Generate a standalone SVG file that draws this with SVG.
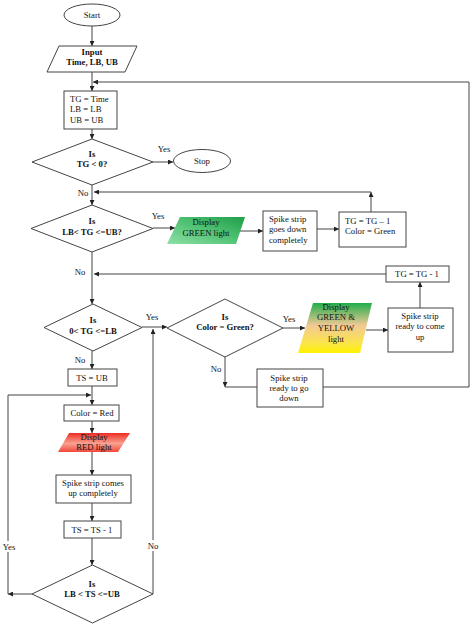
<svg xmlns="http://www.w3.org/2000/svg" width="474" height="629" viewBox="0 0 474 629">
<defs>
<marker id="ah" viewBox="0 0 10 10" refX="10" refY="5" markerWidth="5" markerHeight="5" orient="auto" markerUnits="userSpaceOnUse">
<path d="M0,0 L10,5 L0,10 z" fill="#222"/>
</marker>
<linearGradient id="gGreen" x1="0" y1="1" x2="1" y2="0">
<stop offset="0" stop-color="#8fe0a5"/>
<stop offset="0.5" stop-color="#52c375"/>
<stop offset="1" stop-color="#1f9e48"/>
</linearGradient>
<linearGradient id="gYellow" x1="0" y1="0" x2="0" y2="1">
<stop offset="0" stop-color="#22ad4c"/>
<stop offset="0.45" stop-color="#f2c995"/>
<stop offset="0.8" stop-color="#fbe44a"/>
<stop offset="1" stop-color="#fff200"/>
</linearGradient>
<linearGradient id="gRed" x1="0" y1="0" x2="0" y2="1">
<stop offset="0" stop-color="#ee2c24"/>
<stop offset="0.55" stop-color="#f9a291"/>
<stop offset="1" stop-color="#f0483a"/>
</linearGradient>
</defs>
<style>
.s{fill:#fff;stroke:#444;stroke-width:1}
.c{fill:none;stroke:#444;stroke-width:1}
.t{font-family:"Liberation Serif","Times New Roman",serif;font-size:8.7px;fill:#111}
.b{font-weight:bold}
.m{text-anchor:middle}
.lb{fill:#fff;stroke:none}
</style>
<rect width="474" height="629" fill="#fff"/>

<g id="connectors">
<path class="c" d="M92,26 V46" marker-end="url(#ah)"/>
<path class="c" d="M92,72 V91" marker-end="url(#ah)"/>
<path class="c" d="M323,387 H469 V82 H93" marker-end="url(#ah)"/>
<path class="c" d="M92,129 V139" marker-end="url(#ah)"/>
<path class="c" d="M153,162 H173" marker-end="url(#ah)"/>
<path class="c" d="M92,185 V205" marker-end="url(#ah)"/>
<path class="c" d="M371,212 V192" marker-end="url(#ah)"/>
<path class="c" d="M371,192 H94" marker-end="url(#ah)"/>
<path class="c" d="M153,228 H175" marker-end="url(#ah)"/>
<path class="c" d="M240,231 H263" marker-end="url(#ah)"/>
<path class="c" d="M317,229 H339" marker-end="url(#ah)"/>
<path class="c" d="M92,252 V304" marker-end="url(#ah)"/>
<path class="c" d="M386,274 H94" marker-end="url(#ah)"/>
<path class="c" d="M420,308 V282" marker-end="url(#ah)"/>
<path class="c" d="M142,327 H167" marker-end="url(#ah)"/>
<path class="c" d="M153,594 V329" marker-end="url(#ah)"/>
<path class="c" d="M283,328 H305" marker-end="url(#ah)"/>
<path class="c" d="M366,330 H388" marker-end="url(#ah)"/>
<path class="c" d="M225,357 V387" marker-end="url(#ah)"/>
<path class="c" d="M225,387 H257"/>
<path class="c" d="M92,351 V369" marker-end="url(#ah)"/>
<path class="c" d="M92,386 V405" marker-end="url(#ah)"/>
<path class="c" d="M32,594 H8" marker-end="url(#ah)"/>
<path class="c" d="M8,594 V395 H91" marker-end="url(#ah)"/>
<path class="c" d="M92,421 V433" marker-end="url(#ah)"/>
<path class="c" d="M92,452 V475" marker-end="url(#ah)"/>
<path class="c" d="M92,503 V521" marker-end="url(#ah)"/>
<path class="c" d="M92,538 V565" marker-end="url(#ah)"/>
<rect class="lb" x="2" y="541" width="15" height="11"/>
<rect class="lb" x="146" y="540" width="15" height="11"/>
<text class="t m" x="164" y="152">Yes</text>
<text class="t m" x="83" y="196">No</text>
<text class="t m" x="158" y="219">Yes</text>
<text class="t m" x="80" y="275">No</text>
<text class="t m" x="152" y="320">Yes</text>
<text class="t m" x="80" y="363">No</text>
<text class="t m" x="289" y="322">Yes</text>
<text class="t m" x="216" y="372">No</text>
<text class="t m" x="9" y="550">Yes</text>
<text class="t m" x="153" y="549">No</text>
</g>

<g id="start">
<ellipse class="s" cx="92" cy="15" rx="28" ry="11"/>
<text class="t m" x="92" y="18">Start</text>
</g>
<g id="input">
<polygon class="s" points="59,46 137,46 125,72 47,72"/>
<text class="t b m" x="92" y="55">Input</text>
<text class="t b m" x="92" y="65">Time, LB, UB</text>
</g>
<g id="init">
<rect class="s" x="64" y="91" width="53" height="38"/>
<text class="t" x="70" y="102">TG = Time</text>
<text class="t" x="70" y="112">LB = LB</text>
<text class="t" x="70" y="123">UB = UB</text>
</g>
<g id="d1">
<polygon class="s" points="92,139 153,162 92,185 32,162"/>
<text class="t b m" x="92" y="157">Is</text>
<text class="t b m" x="92" y="167">TG &lt; 0?</text>
</g>
<g id="stop">
<ellipse class="s" cx="202" cy="161" rx="28.5" ry="11.5"/>
<text class="t m" x="202" y="164">Stop</text>
</g>
<g id="d2">
<polygon class="s" points="92,205 153,228.5 92,252 31,228.5"/>
<text class="t b m" x="92" y="224">Is</text>
<text class="t b m" x="92" y="235">LB&lt; TG &lt;=UB?</text>
</g>
<g id="green">
<polygon points="180,217 245,217 236,244 167,244" fill="url(#gGreen)"/>
<text class="t m" x="206" y="225">Display</text>
<text class="t m" x="206" y="236">GREEN light</text>
</g>
<g id="spikeDown">
<rect class="s" x="263" y="211" width="54" height="40"/>
<text class="t" x="269" y="222">Spike strip</text>
<text class="t" x="269" y="232">goes down</text>
<text class="t" x="269" y="243">completely</text>
</g>
<g id="tgGreen">
<rect class="s" x="339" y="212" width="67" height="35"/>
<text class="t" x="345" y="224">TG = TG – 1</text>
<text class="t" x="345" y="234">Color = Green</text>
</g>
<g id="tgMinus">
<rect class="s" x="386" y="266" width="63" height="16"/>
<text class="t m" x="417" y="277">TG = TG - 1</text>
</g>
<g id="d3">
<polygon class="s" points="93,304 142,327.5 93,351 44,327.5"/>
<text class="t b m" x="93" y="323">Is</text>
<text class="t b m" x="93" y="334">0&lt; TG &lt;=LB</text>
</g>
<g id="dColor">
<polygon class="s" points="225,299 283,328 225,357 167,328"/>
<text class="t b m" x="225" y="320">Is</text>
<text class="t b m" x="225" y="330">Color = Green?</text>
</g>
<g id="yellow">
<polygon points="313,303 372,303 360,353 298,353" fill="url(#gYellow)"/>
<text class="t m" x="336" y="310">Display</text>
<text class="t m" x="336" y="320">GREEN &amp;</text>
<text class="t m" x="336" y="331">YELLOW</text>
<text class="t m" x="336" y="342">light</text>
</g>
<g id="readyUp">
<rect class="s" x="388" y="308" width="65" height="44"/>
<text class="t m" x="420" y="319">Spike strip</text>
<text class="t m" x="420" y="329">ready to come</text>
<text class="t m" x="420" y="340">up</text>
</g>
<g id="readyDown">
<rect class="s" x="257" y="369" width="66" height="38"/>
<text class="t m" x="289" y="381">Spike strip</text>
<text class="t m" x="289" y="391">ready to go</text>
<text class="t m" x="289" y="401">down</text>
</g>
<g id="tsub">
<rect class="s" x="68" y="369" width="49" height="17"/>
<text class="t m" x="92" y="381">TS = UB</text>
</g>
<g id="colorRed">
<rect class="s" x="64" y="405" width="55" height="16"/>
<text class="t m" x="92" y="416">Color = Red</text>
</g>
<g id="red">
<polygon points="69,433 130,433 118,452 58,452" fill="url(#gRed)"/>
<text class="t m" x="94" y="440">Display</text>
<text class="t m" x="94" y="450">RED light</text>
</g>
<g id="spikeUp">
<rect class="s" x="56" y="475" width="75" height="28"/>
<text class="t m" x="93" y="486">Spike strip comes</text>
<text class="t m" x="93" y="496">up completely</text>
</g>
<g id="tsMinus">
<rect class="s" x="64" y="521" width="57" height="17"/>
<text class="t m" x="92" y="533">TS = TS - 1</text>
</g>
<g id="d4">
<polygon class="s" points="92.5,565 153,594 92.5,623 32,594"/>
<text class="t b m" x="92" y="587">Is</text>
<text class="t b m" x="92" y="597">LB &lt; TS &lt;=UB</text>
</g>
</svg>
